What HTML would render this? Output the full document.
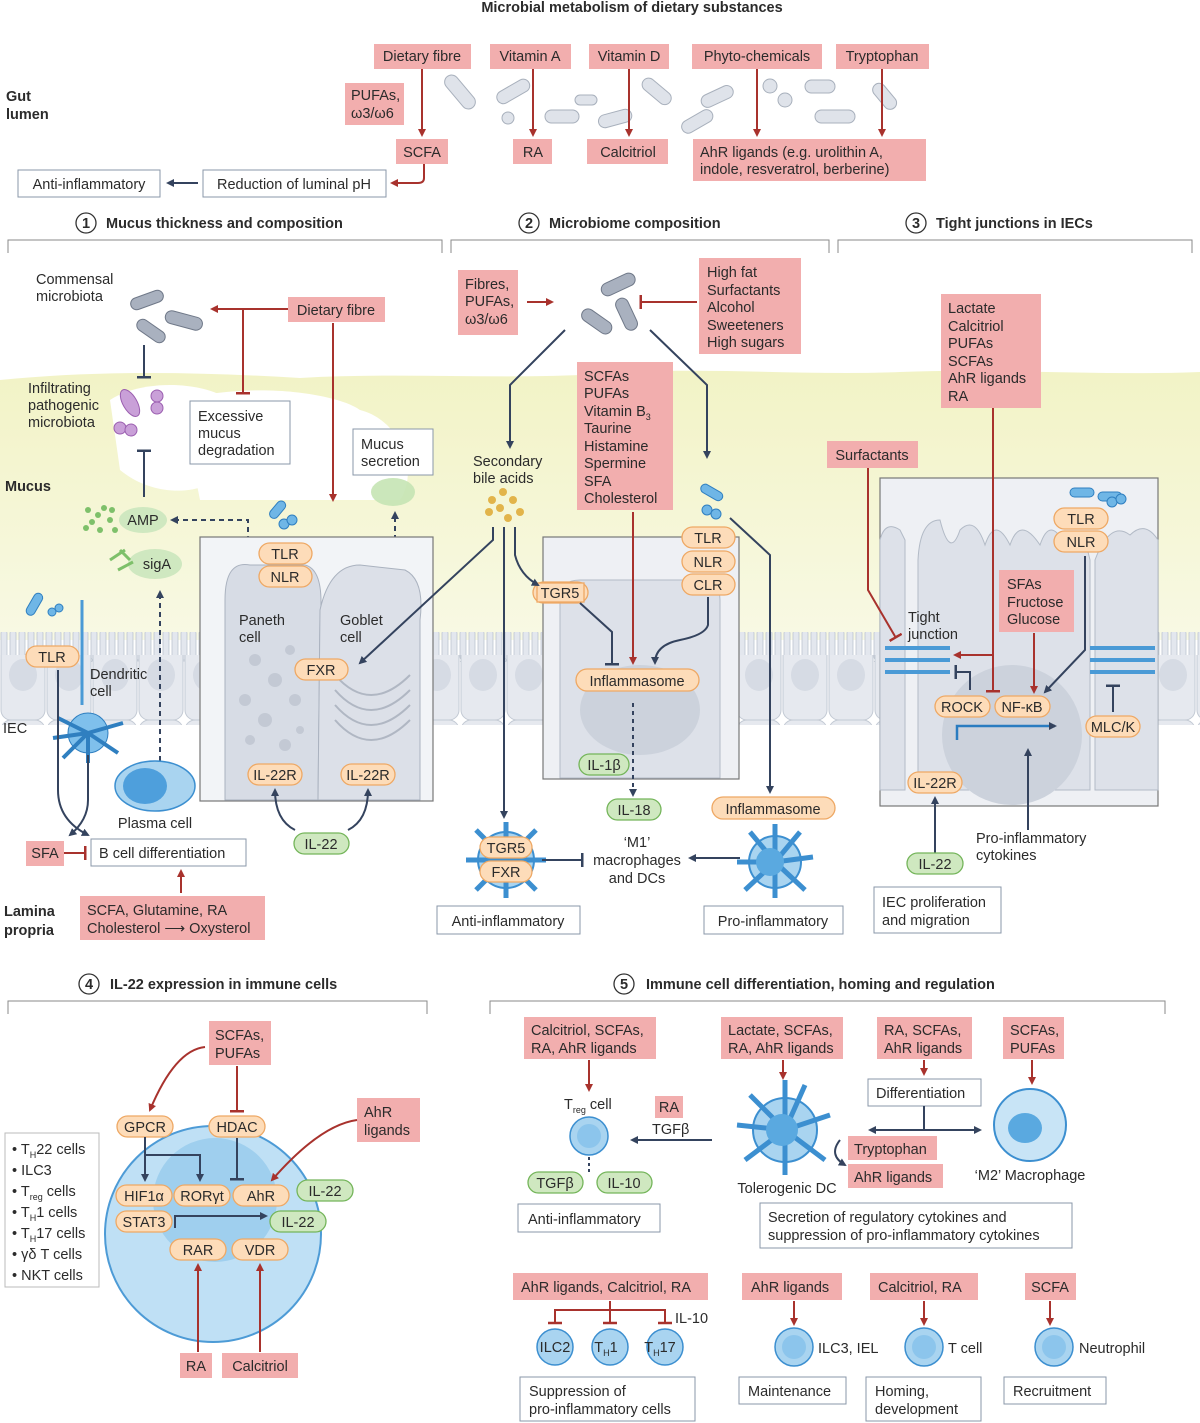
<!DOCTYPE html>
<html><head><meta charset="utf-8"><style>
html,body{margin:0;padding:0;background:#fff}
svg{display:block}
text{font-family:"Liberation Sans",sans-serif;font-size:14.5px;fill:#2b2b2b}
.b{font-weight:bold}
.pk{fill:#f2aeae}
.wb{fill:#fff;stroke:#8a97a8;stroke-width:1}
.or{fill:#fddcb9;stroke:#eea864;stroke-width:1.3}
.gr{fill:#cfe8c0;stroke:#74b55a;stroke-width:1.3}
.ra{stroke:#a8322d;stroke-width:2;fill:none;marker-end:url(#ar)}
.rt{stroke:#a8322d;stroke-width:2;fill:none;marker-end:url(#tr)}
.da{stroke:#34435e;stroke-width:2;fill:none;marker-end:url(#ad)}
.dt{stroke:#34435e;stroke-width:2;fill:none;marker-end:url(#td)}
.dd{stroke:#34435e;stroke-width:2;fill:none;stroke-dasharray:5 4;marker-end:url(#ad)}
.sl{stroke:#8a8a8a;stroke-width:1;fill:none}
.fr{fill:none;stroke:#777;stroke-width:1.2}
.cell{fill:#dde2ea;stroke:#b8c0cc;stroke-width:1}
.bc{fill:#a9d4f0;stroke:#3c8fd0;stroke-width:1.5}
</style></head><body>
<svg width="1200" height="1423" viewBox="0 0 1200 1423" xmlns="http://www.w3.org/2000/svg">
<defs>
<marker id="ar" markerWidth="8" markerHeight="8" refX="6" refY="4" orient="auto" markerUnits="userSpaceOnUse"><path d="M0,0 L8,4 L0,8 z" fill="#a8322d"/></marker>
<marker id="ad" markerWidth="8" markerHeight="8" refX="6" refY="4" orient="auto" markerUnits="userSpaceOnUse"><path d="M0,0 L8,4 L0,8 z" fill="#34435e"/></marker>
<marker id="tr" markerWidth="4" markerHeight="14" refX="2" refY="7" orient="auto" markerUnits="userSpaceOnUse"><rect x="0" y="0" width="2.5" height="14" fill="#a8322d"/></marker>
<marker id="td" markerWidth="4" markerHeight="14" refX="2" refY="7" orient="auto" markerUnits="userSpaceOnUse"><rect x="0" y="0" width="2.5" height="14" fill="#34435e"/></marker>
<linearGradient id="muc" x1="0" y1="0" x2="0" y2="1"><stop offset="0" stop-color="#f2f3c6"/><stop offset="1" stop-color="#f8f9e4"/></linearGradient>
<linearGradient id="ep" x1="0" y1="0" x2="0" y2="1"><stop offset="0" stop-color="#e4e8ee"/><stop offset="1" stop-color="#f4f5f8"/></linearGradient>
<pattern id="mv" width="9" height="30" patternUnits="userSpaceOnUse"><rect x="1" y="0" width="6" height="30" rx="3" fill="#e3e7ee" stroke="#bcc4cf" stroke-width="0.8"/></pattern>
<pattern id="cl" width="46" height="90" patternUnits="userSpaceOnUse"><rect x="1" y="0" width="44" height="90" rx="10" fill="#e6e9ef" stroke="#c3cad4"/><ellipse cx="23" cy="45" rx="14" ry="16" fill="#d6dbe4"/></pattern>
</defs>

<!-- mucus band -->
<path d="M0,380 C100,370 200,372 300,378 C400,372 500,380 600,374 C700,366 800,376 900,372 C1000,368 1100,376 1200,372 L1200,640 L0,640 Z" fill="url(#muc)"/>
<path d="M110,400 C140,380 200,380 230,400 L230,470 C200,500 150,495 120,470 Z" fill="#fff"/>
<path d="M180,400 C260,380 340,395 360,410 C400,420 420,470 400,500 L200,500 Z" fill="#fff"/>
<!-- epithelium -->
<rect x="0" y="632" width="1200" height="30" fill="url(#mv)"/>
<rect x="0" y="655" width="1200" height="70" fill="url(#cl)"/>

<!-- TOP -->
<text x="632" y="12" text-anchor="middle" class="b" font-size="15">Microbial metabolism of dietary substances</text>
<text x="6" y="101" class="b">Gut</text><text x="6" y="119" class="b">lumen</text>
<!-- bacteria decorations -->
<g fill="#dfe3ea" stroke="#a8b0bc" stroke-width="1">
<rect x="440" y="85" width="40" height="14" rx="7" transform="rotate(50 460 92)"/>
<rect x="495" y="85" width="36" height="13" rx="6.5" transform="rotate(-30 513 91)"/>
<rect x="545" y="110" width="34" height="13" rx="6.5"/>
<rect x="598" y="112" width="34" height="13" rx="6.5" transform="rotate(-15 615 118)"/>
<rect x="640" y="85" width="34" height="13" rx="6.5" transform="rotate(40 657 91)"/>
<rect x="680" y="115" width="34" height="13" rx="6.5" transform="rotate(-30 697 121)"/>
<rect x="700" y="90" width="34" height="13" rx="6.5" transform="rotate(-25 717 96)"/>
<rect x="805" y="80" width="30" height="13" rx="6.5"/>
<rect x="870" y="90" width="30" height="13" rx="6.5" transform="rotate(50 885 96)"/>
<circle cx="770" cy="86" r="7"/><circle cx="785" cy="100" r="7"/><circle cx="508" cy="118" r="6"/>
<rect x="575" y="95" width="22" height="10" rx="5"/>
<rect x="815" y="110" width="40" height="13" rx="6.5"/>
</g>
<rect x="374" y="44" width="97" height="25" class="pk"/><text x="422" y="61" text-anchor="middle">Dietary fibre</text>
<rect x="490" y="44" width="81" height="25" class="pk"/><text x="530" y="61" text-anchor="middle">Vitamin A</text>
<rect x="589" y="44" width="80" height="25" class="pk"/><text x="629" y="61" text-anchor="middle">Vitamin D</text>
<rect x="692" y="44" width="130" height="25" class="pk"/><text x="757" y="61" text-anchor="middle">Phyto-chemicals</text>
<rect x="836" y="44" width="93" height="25" class="pk"/><text x="882" y="61" text-anchor="middle">Tryptophan</text>
<rect x="345" y="83" width="59" height="42" class="pk"/><text x="351" y="100">PUFAs,</text><text x="351" y="118">ω3/ω6</text>
<line x1="422" y1="69" x2="422" y2="135" class="ra"/>
<line x1="533" y1="69" x2="533" y2="135" class="ra"/>
<line x1="629" y1="69" x2="629" y2="135" class="ra"/>
<line x1="757" y1="69" x2="757" y2="135" class="ra"/>
<line x1="882" y1="69" x2="882" y2="135" class="ra"/>
<rect x="396" y="139" width="52" height="25" class="pk"/><text x="422" y="157" text-anchor="middle">SCFA</text>
<rect x="513" y="139" width="39" height="25" class="pk"/><text x="533" y="157" text-anchor="middle">RA</text>
<rect x="587" y="139" width="81" height="25" class="pk"/><text x="628" y="157" text-anchor="middle">Calcitriol</text>
<rect x="693" y="139" width="233" height="42" class="pk"/><text x="700" y="157">AhR ligands (e.g. urolithin A,</text><text x="700" y="174">indole, resveratrol, berberine)</text>
<path d="M424,164 L424,178 Q424,183 418,183 L392,183" class="ra"/>
<rect x="203" y="170" width="183" height="27" class="wb"/><text x="294" y="189" text-anchor="middle">Reduction of luminal pH</text>
<line x1="198" y1="183" x2="168" y2="183" class="da"/>
<rect x="18" y="170" width="142" height="27" class="wb"/><text x="89" y="189" text-anchor="middle">Anti-inflammatory</text>

<!-- section headers -->
<circle cx="86" cy="223" r="10" fill="#fff" stroke="#333" stroke-width="1.3"/><text x="86" y="228" text-anchor="middle" class="b" font-size="13">1</text>
<text x="106" y="228" class="b">Mucus thickness and composition</text>
<path d="M8,253 L8,240 L442,240 L442,253" class="sl"/>
<circle cx="529" cy="223" r="10" fill="#fff" stroke="#333" stroke-width="1.3"/><text x="529" y="228" text-anchor="middle" class="b" font-size="13">2</text>
<text x="549" y="228" class="b">Microbiome composition</text>
<path d="M451,253 L451,240 L829,240 L829,253" class="sl"/>
<circle cx="916" cy="223" r="10" fill="#fff" stroke="#333" stroke-width="1.3"/><text x="916" y="228" text-anchor="middle" class="b" font-size="13">3</text>
<text x="936" y="228" class="b">Tight junctions in IECs</text>
<path d="M838,253 L838,240 L1192,240 L1192,253" class="sl"/>

<!-- SECTION 1 -->
<text x="36" y="284">Commensal</text><text x="36" y="301">microbiota</text>
<g fill="#a9b1bf" stroke="#6f7888">
<rect x="130" y="294" width="34" height="12" rx="6" transform="rotate(-20 147 300)"/>
<rect x="165" y="314" width="38" height="13" rx="6.5" transform="rotate(15 184 320)"/>
<rect x="135" y="325" width="32" height="12" rx="6" transform="rotate(35 151 331)"/>
</g>
<rect x="288" y="297" width="97" height="25" class="pk"/><text x="336" y="315" text-anchor="middle">Dietary fibre</text>
<line x1="288" y1="309" x2="212" y2="309" class="ra"/>
<line x1="243" y1="309" x2="243" y2="394" class="rt"/>
<line x1="333" y1="323" x2="333" y2="500" class="ra"/>
<line x1="144" y1="345" x2="144" y2="378" class="dt"/>
<text x="28" y="393">Infiltrating</text><text x="28" y="410">pathogenic</text><text x="28" y="427">microbiota</text>
<g fill="#c9a0d8" stroke="#9b5fb0"><ellipse cx="130" cy="403" rx="7" ry="15" transform="rotate(-30 130 403)"/><circle cx="157" cy="396" r="6"/><circle cx="157" cy="408" r="6"/><circle cx="120" cy="428" r="6"/><circle cx="131" cy="430" r="6"/></g>
<rect x="190" y="401" width="100" height="63" class="wb"/><text x="198" y="421">Excessive</text><text x="198" y="438">mucus</text><text x="198" y="455">degradation</text>
<rect x="353" y="429" width="80" height="46" class="wb"/><text x="361" y="449">Mucus</text><text x="361" y="466">secretion</text>
<ellipse cx="393" cy="492" rx="22" ry="14" fill="#c5e4b4" opacity="0.9"/>
<line x1="144" y1="497" x2="144" y2="450" class="dt"/>
<text x="5" y="491" class="b">Mucus</text>
<g fill="#7ec06a"><circle cx="88" cy="510" r="3"/><circle cx="98" cy="515" r="3"/><circle cx="92" cy="522" r="3"/><circle cx="104" cy="508" r="3"/><circle cx="110" cy="520" r="3"/><circle cx="86" cy="528" r="3"/><circle cx="100" cy="530" r="3"/><circle cx="115" cy="530" r="3"/><circle cx="112" cy="510" r="3"/></g>
<ellipse cx="143" cy="520" rx="24" ry="13" fill="#cfe8c0"/><text x="143" y="525" text-anchor="middle">AMP</text>
<ellipse cx="155" cy="564" rx="27" ry="15" fill="#cfe8c0"/><text x="157" y="569" text-anchor="middle">sigA</text>
<path d="M110,560 l15,-10 M118,570 l15,-8 M120,550 l10,10" stroke="#7ec06a" stroke-width="3"/>
<path d="M248,622 L248,520 L172,520" class="dd"/>
<line x1="160" y1="770" x2="160" y2="592" class="dd"/>
<line x1="395" y1="585" x2="395" y2="513" class="dd"/>
<!-- frame 1 -->
<rect x="200" y="537" width="233" height="264" fill="#f2f4f7" stroke="#777" stroke-width="1.2"/>
<path d="M225,800 L225,600 Q225,560 250,565 L305,565 Q325,570 320,620 L318,800 Z" fill="#d7dce5" stroke="#aab2bf"/>
<path d="M318,800 L320,610 Q330,565 360,565 L405,570 Q425,580 420,620 L420,800 Z" fill="#dce0e8" stroke="#aab2bf"/>
<g fill="#c3c9d4"><circle cx="255" cy="660" r="6"/><circle cx="275" cy="680" r="7"/><circle cx="245" cy="700" r="6"/><circle cx="290" cy="650" r="5"/><circle cx="265" cy="720" r="7"/><circle cx="295" cy="700" r="6"/><circle cx="250" cy="740" r="5"/><circle cx="285" cy="745" r="6"/><circle cx="300" cy="730" r="4"/></g>
<g fill="none" stroke="#b0b7c3" stroke-width="2"><path d="M335,690 Q370,730 410,690"/><path d="M335,705 Q370,745 410,705"/><path d="M335,720 Q370,760 410,720"/><path d="M335,675 Q370,715 410,675"/></g>
<g fill="#6fb6e6" stroke="#2f7fc0"><rect x="268" y="505" width="20" height="9" rx="4.5" transform="rotate(-50 278 510)"/><circle cx="284" cy="524" r="5"/><circle cx="292" cy="520" r="5"/></g>
<rect x="259" y="543" width="53" height="21" rx="10.5" class="or"/><text x="285" y="559" text-anchor="middle">TLR</text>
<rect x="259" y="566" width="53" height="21" rx="10.5" class="or"/><text x="285" y="582" text-anchor="middle">NLR</text>
<text x="239" y="625">Paneth</text><text x="239" y="642">cell</text>
<text x="340" y="625">Goblet</text><text x="340" y="642">cell</text>
<rect x="295" y="659" width="53" height="21" rx="10.5" class="or"/><text x="321" y="675" text-anchor="middle">FXR</text>
<rect x="248" y="764" width="54" height="21" rx="10.5" class="or"/><text x="275" y="780" text-anchor="middle">IL-22R</text>
<rect x="341" y="764" width="54" height="21" rx="10.5" class="or"/><text x="368" y="780" text-anchor="middle">IL-22R</text>
<path d="M295,830 Q275,820 275,790" class="da"/><path d="M348,830 Q368,820 368,790" class="da"/>
<rect x="294" y="833" width="55" height="21" rx="10.5" class="gr"/><text x="321" y="849" text-anchor="middle">IL-22</text>
<!-- left part -->
<g fill="#6fb6e6" stroke="#2f7fc0"><rect x="22" y="600" width="24" height="9" rx="4.5" transform="rotate(-60 34 604)"/><circle cx="52" cy="612" r="4"/><circle cx="59" cy="608" r="4"/></g>
<line x1="82" y1="600" x2="82" y2="705" stroke="#4a9ad6" stroke-width="3"/>
<rect x="26" y="646" width="53" height="21" rx="10.5" class="or"/><text x="52" y="662" text-anchor="middle">TLR</text>
<text x="90" y="679">Dendritic</text><text x="90" y="696">cell</text>
<text x="3" y="733">IEC</text>
<g fill="#7fc0ec" stroke="#2f7fc0"><circle cx="88" cy="733" r="20"/><path d="M88,733 l-30,-15 M88,733 l35,-10 M88,733 l30,20 M88,733 l-25,25 M88,733 l0,30 M88,733 l-35,5" stroke-width="4"/></g>
<path d="M58,670 L58,790 Q58,820 88,835" class="da"/>
<path d="M88,755 L88,800 Q88,820 70,835" class="da"/>
<ellipse cx="155" cy="786" rx="40" ry="25" class="bc"/><ellipse cx="145" cy="786" rx="22" ry="18" fill="#4e9fdc"/>
<text x="155" y="828" text-anchor="middle">Plasma cell</text>
<rect x="91" y="839" width="155" height="27" class="wb"/><text x="99" y="858">B cell differentiation</text>
<rect x="26" y="841" width="38" height="25" class="pk"/><text x="45" y="858" text-anchor="middle">SFA</text>
<line x1="64" y1="853" x2="86" y2="853" class="rt"/>
<line x1="181" y1="893" x2="181" y2="871" class="ra"/>
<text x="4" y="916" class="b">Lamina</text><text x="4" y="935" class="b">propria</text>
<rect x="80" y="896" width="185" height="44" class="pk"/><text x="87" y="915">SCFA, Glutamine, RA</text><text x="87" y="933">Cholesterol ⟶ Oxysterol</text>

<!-- SECTION 2 -->
<rect x="458" y="270" width="60" height="65" class="pk"/><text x="465" y="289">Fibres,</text><text x="465" y="306">PUFAs,</text><text x="465" y="324">ω3/ω6</text>
<line x1="527" y1="302" x2="552" y2="302" class="ra"/>
<g fill="#a9b1bf" stroke="#6f7888">
<rect x="600" y="278" width="36" height="13" rx="6.5" transform="rotate(-25 618 284)"/>
<rect x="580" y="315" width="34" height="13" rx="6.5" transform="rotate(35 597 321)"/>
<rect x="610" y="308" width="34" height="13" rx="6.5" transform="rotate(65 627 314)"/>
</g>
<line x1="697" y1="302" x2="640" y2="302" class="rt"/>
<rect x="699" y="258" width="102" height="96" class="pk"/>
<text x="707" y="277">High fat</text><text x="707" y="295">Surfactants</text><text x="707" y="312">Alcohol</text><text x="707" y="330">Sweeteners</text><text x="707" y="347">High sugars</text>
<path d="M565,330 L510,385 L510,447" class="da"/>
<path d="M650,330 L707,385 L707,457" class="da"/>
<rect x="577" y="362" width="96" height="148" class="pk"/>
<text x="584" y="381">SCFAs</text><text x="584" y="398">PUFAs</text><text x="584" y="416">Vitamin B<tspan font-size="9" dy="4">3</tspan></text><text x="584" y="433">Taurine</text><text x="584" y="451">Histamine</text><text x="584" y="468">Spermine</text><text x="584" y="486">SFA</text><text x="584" y="503">Cholesterol</text>
<text x="473" y="466">Secondary</text><text x="473" y="483">bile acids</text>
<g fill="#e2b44a"><circle cx="492" cy="500" r="4"/><circle cx="503" cy="492" r="4"/><circle cx="513" cy="500" r="4"/><circle cx="500" cy="508" r="4"/><circle cx="489" cy="512" r="4"/><circle cx="520" cy="512" r="4"/><circle cx="508" cy="518" r="4"/></g>
<rect x="543" y="537" width="196" height="242" fill="#eef0f4" stroke="#777" stroke-width="1.2"/>
<path d="M560,778 L560,600 Q560,580 580,580 L700,580 Q720,580 720,600 L720,778 Z" fill="#dde1e9" stroke="#b2bac6"/>
<ellipse cx="640" cy="710" rx="60" ry="45" fill="#ccd2dc"/>
<g fill="#6fb6e6" stroke="#2f7fc0"><rect x="700" y="488" width="24" height="9" rx="4.5" transform="rotate(30 712 492)"/><circle cx="707" cy="510" r="5"/><circle cx="716" cy="514" r="5"/></g>
<rect x="682" y="527" width="53" height="21" rx="10.5" class="or"/><text x="708" y="543" text-anchor="middle">TLR</text>
<rect x="682" y="551" width="53" height="21" rx="10.5" class="or"/><text x="708" y="567" text-anchor="middle">NLR</text>
<rect x="682" y="574" width="53" height="21" rx="10.5" class="or"/><text x="708" y="590" text-anchor="middle">CLR</text>
<rect x="533" y="582" width="55" height="21" rx="10.5" class="or"/><text x="560" y="598" text-anchor="middle">TGF5</text>
<rect x="537" y="583" width="47" height="19" class="or" stroke="none"/><text x="560" y="598" text-anchor="middle">TGR5</text>
<path d="M515,527 L515,555 Q520,575 538,585" class="da" marker-end="none"/>
<path d="M580,603 L612,632 L612,665" class="dt"/>
<line x1="633" y1="512" x2="633" y2="663" class="ra"/>
<path d="M708,597 L708,625 Q705,635 680,640 Q655,645 655,663" class="da"/>
<rect x="576" y="669" width="123" height="22" rx="11" class="or"/><text x="637" y="686" text-anchor="middle">Inflammasome</text>
<line x1="633" y1="703" x2="633" y2="795" stroke="#34435e" stroke-width="2" stroke-dasharray="4 4" marker-end="url(#ad)"/>
<rect x="579" y="754" width="50" height="21" rx="10.5" class="gr"/><text x="604" y="770" text-anchor="middle">IL-1β</text>
<rect x="607" y="799" width="54" height="21" rx="10.5" class="gr"/><text x="634" y="815" text-anchor="middle">IL-18</text>
<path d="M493,527 L493,540 L360,663" class="da"/>
<line x1="504" y1="527" x2="504" y2="817" class="da"/>
<path d="M730,518 L770,555 L770,792" class="da"/>
<rect x="712" y="797" width="123" height="22" rx="11" class="or"/><text x="773" y="814" text-anchor="middle">Inflammasome</text>
<g fill="#a9d4f0" stroke="#3c8fd0" stroke-width="2"><circle cx="775" cy="862" r="26"/><path d="M775,862 l-38,0 M775,862 l38,-5 M775,862 l-25,-30 M775,862 l25,-30 M775,862 l0,-38 M775,862 l-30,28 M775,862 l30,28 M775,862 l0,36" stroke-width="5"/></g>
<circle cx="770" cy="862" r="14" fill="#5aa9e0"/>
<g fill="#a9d4f0" stroke="#3c8fd0" stroke-width="2"><circle cx="506" cy="860" r="28"/><path d="M506,860 l-40,0 M506,860 l40,0 M506,860 l-30,-30 M506,860 l30,-30 M506,860 l-30,30 M506,860 l30,30 M506,860 l0,-38 M506,860 l0,38" stroke-width="5"/></g>
<rect x="480" y="837" width="52" height="21" rx="10.5" class="or"/><text x="506" y="853" text-anchor="middle">TGR5</text>
<rect x="480" y="861" width="52" height="21" rx="10.5" class="or"/><text x="506" y="877" text-anchor="middle">FXR</text>
<line x1="542" y1="860" x2="583" y2="860" class="dt"/>
<line x1="740" y1="858" x2="690" y2="858" class="da"/>
<text x="637" y="847" text-anchor="middle">‘M1’</text><text x="637" y="865" text-anchor="middle">macrophages</text><text x="637" y="883" text-anchor="middle">and DCs</text>
<rect x="437" y="906" width="143" height="28" class="wb"/><text x="508" y="926" text-anchor="middle">Anti-inflammatory</text>
<rect x="704" y="906" width="139" height="28" class="wb"/><text x="773" y="926" text-anchor="middle">Pro-inflammatory</text>

<!-- SECTION 3 -->
<rect x="941" y="294" width="100" height="114" class="pk"/>
<text x="948" y="313">Lactate</text><text x="948" y="331">Calcitriol</text><text x="948" y="348">PUFAs</text><text x="948" y="366">SCFAs</text><text x="948" y="383">AhR ligands</text><text x="948" y="401">RA</text>
<rect x="827" y="441" width="91" height="27" class="pk"/><text x="872" y="460" text-anchor="middle">Surfactants</text>
<rect x="880" y="478" width="278" height="328" fill="#eef0f4" stroke="#777" stroke-width="1.2"/>
<path d="M880,790 L880,540 Q885,520 900,530 L905,540 L905,790 Z" fill="#dde1e9" stroke="#b2bac6"/>
<path d="M918,790 L918,560 Q920,520 940,520 Q950,560 960,530 Q975,515 985,545 Q995,515 1010,545 Q1020,515 1040,545 Q1050,515 1065,545 Q1080,515 1090,560 L1090,790 Z" fill="#dde1e9" stroke="#b2bac6"/>
<path d="M1095,790 L1095,560 Q1110,520 1130,535 Q1145,520 1158,540 L1158,790 Z" fill="#dde1e9" stroke="#b2bac6"/>
<circle cx="1012" cy="735" r="70" fill="#ccd2dc"/>
<g fill="#6fb6e6" stroke="#2f7fc0"><rect x="1070" y="488" width="24" height="9" rx="4.5"/><rect x="1098" y="492" width="24" height="9" rx="4.5"/><circle cx="1112" cy="502" r="5"/><circle cx="1121" cy="499" r="5"/></g>
<rect x="1054" y="508" width="54" height="21" rx="10.5" class="or"/><text x="1081" y="524" text-anchor="middle">TLR</text>
<rect x="1054" y="531" width="54" height="21" rx="10.5" class="or"/><text x="1081" y="547" text-anchor="middle">NLR</text>
<rect x="999" y="570" width="75" height="62" class="pk"/><text x="1007" y="589">SFAs</text><text x="1007" y="607">Fructose</text><text x="1007" y="624">Glucose</text>
<text x="908" y="622">Tight</text><text x="908" y="639">junction</text>
<path d="M868,468 L868,590 L896,638" class="rt"/>
<g fill="none" stroke="#4a9ad6" stroke-width="4"><path d="M885,648 h65 M885,660 h65 M885,672 h65"/><path d="M1090,648 h65 M1090,660 h65 M1090,672 h65"/></g>
<path d="M993,408 L993,655 L955,655" class="ra"/>
<line x1="993" y1="655" x2="993" y2="692" class="rt"/>
<path d="M970,690 L970,672 L955,672" class="dt"/>
<line x1="1034" y1="633" x2="1034" y2="692" class="ra"/>
<path d="M1085,556 L1085,650 L1045,692" class="da"/>
<rect x="935" y="696" width="55" height="21" rx="10.5" class="or"/><text x="962" y="712" text-anchor="middle">ROCK</text>
<rect x="995" y="696" width="55" height="21" rx="10.5" class="or"/><text x="1022" y="712" text-anchor="middle">NF-κB</text>
<path d="M957,740 L957,726 L1055,726" stroke="#2a7cc0" stroke-width="2.5" fill="none" marker-end="url(#ad)"/>
<line x1="1113" y1="712" x2="1113" y2="685" class="dt"/>
<rect x="1086" y="716" width="54" height="21" rx="10.5" class="or"/><text x="1113" y="732" text-anchor="middle">MLC/K</text>
<rect x="908" y="772" width="54" height="21" rx="10.5" class="or"/><text x="935" y="788" text-anchor="middle">IL-22R</text>
<line x1="935" y1="853" x2="935" y2="798" class="da"/>
<line x1="1028" y1="830" x2="1028" y2="750" class="da"/>
<text x="976" y="843">Pro-inflammatory</text><text x="976" y="860">cytokines</text>
<rect x="907" y="853" width="56" height="21" rx="10.5" class="gr"/><text x="935" y="869" text-anchor="middle">IL-22</text>
<rect x="874" y="887" width="127" height="46" class="wb"/><text x="882" y="907">IEC proliferation</text><text x="882" y="925">and migration</text>

<!-- SECTION 4 -->
<circle cx="89" cy="984" r="10" fill="#fff" stroke="#333" stroke-width="1.3"/><text x="89" y="989" text-anchor="middle" class="b" font-size="13">4</text>
<text x="110" y="989" class="b">IL-22 expression in immune cells</text>
<path d="M8,1014 L8,1001 L427,1001 L427,1014" class="sl"/>
<rect x="5" y="1133" width="94" height="154" fill="#fff" stroke="#bbb"/>
<text x="12" y="1154">• T<tspan font-size="9" dy="4">H</tspan><tspan dy="-4">22 cells</tspan></text>
<text x="12" y="1175">• ILC3</text>
<text x="12" y="1196">• T<tspan font-size="9" dy="4">reg</tspan><tspan dy="-4"> cells</tspan></text>
<text x="12" y="1217">• T<tspan font-size="9" dy="4">H</tspan><tspan dy="-4">1 cells</tspan></text>
<text x="12" y="1238">• T<tspan font-size="9" dy="4">H</tspan><tspan dy="-4">17 cells</tspan></text>
<text x="12" y="1259">• γδ T  cells</text>
<text x="12" y="1280">• NKT  cells</text>
<circle cx="213" cy="1234" r="108" fill="#bfe0f5" stroke="#4d9bd6" stroke-width="2"/>
<circle cx="215" cy="1200" r="62" fill="#9fcfee"/>
<rect x="209" y="1021" width="62" height="44" class="pk"/><text x="215" y="1040">SCFAs,</text><text x="215" y="1058">PUFAs</text>
<rect x="357" y="1098" width="63" height="44" class="pk"/><text x="364" y="1117">AhR</text><text x="364" y="1135">ligands</text>
<path d="M205,1047 Q175,1050 150,1110" class="ra"/>
<line x1="237" y1="1066" x2="237" y2="1112" class="rt"/>
<path d="M357,1120 Q320,1125 272,1180" class="ra"/>
<rect x="117" y="1116" width="56" height="21" rx="10.5" class="or"/><text x="145" y="1132" text-anchor="middle">GPCR</text>
<rect x="209" y="1116" width="56" height="21" rx="10.5" class="or"/><text x="237" y="1132" text-anchor="middle">HDAC</text>
<path d="M145,1137 L145,1155 L200,1155 L200,1180" class="da"/>
<line x1="145" y1="1155" x2="145" y2="1180" class="da"/>
<line x1="237" y1="1138" x2="237" y2="1180" class="dt"/>
<rect x="116" y="1185" width="56" height="21" rx="10.5" class="or"/><text x="144" y="1201" text-anchor="middle">HIF1α</text>
<rect x="174" y="1185" width="56" height="21" rx="10.5" class="or"/><text x="202" y="1201" text-anchor="middle">RORγt</text>
<rect x="233" y="1185" width="56" height="21" rx="10.5" class="or"/><text x="261" y="1201" text-anchor="middle">AhR</text>
<rect x="116" y="1211" width="56" height="21" rx="10.5" class="or"/><text x="144" y="1227" text-anchor="middle">STAT3</text>
<rect x="297" y="1180" width="56" height="21" rx="10.5" class="gr"/><text x="325" y="1196" text-anchor="middle">IL-22</text>
<rect x="270" y="1211" width="56" height="21" rx="10.5" class="gr"/><text x="298" y="1227" text-anchor="middle">IL-22</text>
<path d="M175,1228 L175,1216 L266,1216" class="da"/>
<rect x="170" y="1239" width="56" height="21" rx="10.5" class="or"/><text x="198" y="1255" text-anchor="middle">RAR</text>
<rect x="232" y="1239" width="56" height="21" rx="10.5" class="or"/><text x="260" y="1255" text-anchor="middle">VDR</text>
<line x1="198" y1="1352" x2="198" y2="1265" class="ra"/>
<line x1="260" y1="1352" x2="260" y2="1265" class="ra"/>
<rect x="180" y="1353" width="32" height="25" class="pk"/><text x="196" y="1371" text-anchor="middle">RA</text>
<rect x="222" y="1353" width="76" height="25" class="pk"/><text x="260" y="1371" text-anchor="middle">Calcitriol</text>

<!-- SECTION 5 -->
<circle cx="624" cy="984" r="10" fill="#fff" stroke="#333" stroke-width="1.3"/><text x="624" y="989" text-anchor="middle" class="b" font-size="13">5</text>
<text x="646" y="989" class="b">Immune cell differentiation, homing and regulation</text>
<path d="M490,1014 L490,1001 L1165,1001 L1165,1014" class="sl"/>
<rect x="524" y="1017" width="132" height="42" class="pk"/><text x="531" y="1035">Calcitriol, SCFAs,</text><text x="531" y="1053">RA, AhR ligands</text>
<rect x="721" y="1017" width="122" height="42" class="pk"/><text x="728" y="1035">Lactate, SCFAs,</text><text x="728" y="1053">RA, AhR ligands</text>
<rect x="877" y="1017" width="95" height="42" class="pk"/><text x="884" y="1035">RA, SCFAs,</text><text x="884" y="1053">AhR ligands</text>
<rect x="1003" y="1017" width="61" height="42" class="pk"/><text x="1010" y="1035">SCFAs,</text><text x="1010" y="1053">PUFAs</text>
<line x1="589" y1="1060" x2="589" y2="1090" class="ra"/>
<line x1="783" y1="1060" x2="783" y2="1078" class="ra"/>
<line x1="924" y1="1060" x2="924" y2="1074" class="ra"/>
<line x1="1032" y1="1060" x2="1032" y2="1083" class="ra"/>
<text x="564" y="1109">T<tspan font-size="9" dy="4">reg</tspan><tspan dy="-4"> cell</tspan></text>
<circle cx="589" cy="1136" r="19" class="bc"/><circle cx="589" cy="1136" r="12" fill="#8cc5ec"/>
<line x1="589" y1="1157" x2="589" y2="1172" stroke="#34435e" stroke-width="2" stroke-dasharray="3 3"/>
<rect x="655" y="1096" width="28" height="22" class="pk"/><text x="669" y="1112" text-anchor="middle">RA</text>
<text x="652" y="1134">TGFβ</text>
<line x1="712" y1="1140" x2="632" y2="1140" class="da"/>
<rect x="528" y="1172" width="55" height="21" rx="10.5" class="gr"/><text x="555" y="1188" text-anchor="middle">TGFβ</text>
<rect x="597" y="1172" width="55" height="21" rx="10.5" class="gr"/><text x="624" y="1188" text-anchor="middle">IL-10</text>
<rect x="518" y="1204" width="142" height="28" class="wb"/><text x="528" y="1224">Anti-inflammatory</text>
<g fill="#a9d4f0" stroke="#3c8fd0" stroke-width="2"><circle cx="785" cy="1130" r="32"/><path d="M785,1130 l-48,-5 M785,1130 l45,-15 M785,1130 l-35,-35 M785,1130 l0,-50 M785,1130 l-40,30 M785,1130 l40,30 M785,1130 l20,-45 M785,1130 l0,45" stroke-width="5"/></g>
<circle cx="782" cy="1130" r="16" fill="#5aa9e0"/>
<text x="787" y="1193" text-anchor="middle">Tolerogenic DC</text>
<rect x="868" y="1079" width="113" height="27" class="wb"/><text x="876" y="1098">Differentiation</text>
<path d="M924,1106 L924,1130 L870,1130" class="da"/><path d="M924,1130 L980,1130" class="da"/>
<path d="M840,1140 Q828,1155 845,1165" class="da"/>
<rect x="848" y="1136" width="89" height="24" class="pk"/><text x="854" y="1154">Tryptophan</text>
<rect x="848" y="1164" width="95" height="24" class="pk"/><text x="854" y="1182">AhR ligands</text>
<circle cx="1030" cy="1125" r="36" fill="#c8e4f6" stroke="#3c8fd0" stroke-width="2"/>
<ellipse cx="1025" cy="1128" rx="17" ry="15" fill="#5aa9e0"/>
<text x="1030" y="1180" text-anchor="middle">‘M2’ Macrophage</text>
<rect x="760" y="1203" width="312" height="45" class="wb"/><text x="768" y="1222">Secretion of regulatory cytokines and</text><text x="768" y="1240">suppression of pro-inflammatory cytokines</text>

<rect x="513" y="1273" width="195" height="27" class="pk"/><text x="521" y="1292">AhR ligands, Calcitriol, RA</text>
<path d="M610,1301 L610,1310 M555,1323 L555,1310 L665,1310 L665,1323 M610,1310 L610,1323" stroke="#a8322d" stroke-width="2" fill="none"/>
<path d="M548,1323 h14 M603,1323 h14 M658,1323 h14" stroke="#a8322d" stroke-width="2.5"/>
<text x="675" y="1323">IL-10</text>
<circle cx="555" cy="1347" r="18" class="bc"/><text x="555" y="1352" text-anchor="middle">ILC2</text>
<circle cx="610" cy="1347" r="18" class="bc"/><text x="606" y="1352" text-anchor="middle">T<tspan font-size="9" dy="4">H</tspan><tspan dy="-4">1</tspan></text>
<circle cx="665" cy="1347" r="18" class="bc"/><text x="660" y="1352" text-anchor="middle">T<tspan font-size="9" dy="4">H</tspan><tspan dy="-4">17</tspan></text>
<rect x="520" y="1377" width="175" height="44" class="wb"/><text x="529" y="1396">Suppression of</text><text x="529" y="1414">pro-inflammatory cells</text>
<rect x="742" y="1273" width="100" height="27" class="pk"/><text x="751" y="1292">AhR ligands</text>
<line x1="794" y1="1301" x2="794" y2="1324" class="ra"/>
<circle cx="794" cy="1347" r="19" class="bc"/><circle cx="794" cy="1347" r="12" fill="#8cc5ec"/><text x="818" y="1353">ILC3, IEL</text>
<rect x="739" y="1377" width="107" height="27" class="wb"/><text x="748" y="1396">Maintenance</text>
<rect x="870" y="1273" width="108" height="27" class="pk"/><text x="878" y="1292">Calcitriol, RA</text>
<line x1="924" y1="1301" x2="924" y2="1324" class="ra"/>
<circle cx="924" cy="1347" r="19" class="bc"/><circle cx="924" cy="1347" r="12" fill="#8cc5ec"/><text x="948" y="1353">T cell</text>
<rect x="866" y="1377" width="115" height="44" class="wb"/><text x="875" y="1396">Homing,</text><text x="875" y="1414">development</text>
<rect x="1025" y="1273" width="51" height="27" class="pk"/><text x="1050" y="1292" text-anchor="middle">SCFA</text>
<line x1="1050" y1="1301" x2="1050" y2="1324" class="ra"/>
<circle cx="1054" cy="1347" r="19" class="bc"/><circle cx="1054" cy="1347" r="12" fill="#8cc5ec"/><text x="1079" y="1353">Neutrophil</text>
<rect x="1004" y="1377" width="102" height="27" class="wb"/><text x="1013" y="1396">Recruitment</text>
</svg>
</body></html>
